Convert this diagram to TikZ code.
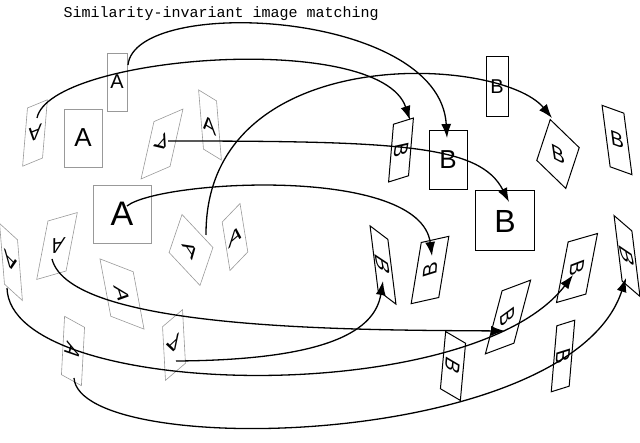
\documentclass[tikz,border=0pt]{standalone}
\usepackage{fontspec}
\setmainfont{Liberation Sans}
\setmonofont{Liberation Mono}
\usetikzlibrary{arrows.meta}
\newcommand{\rl}[2]{\rotatebox{#1}{#2}}
\begin{document}
\begin{tikzpicture}[x=1pt,y=-1pt,
 ga/.style={draw=gray!80, line width=0.6pt, inner sep=0pt, font=\fontsize{20}{20}\selectfont},
 gb/.style={draw=black, line width=1pt, inner sep=0pt, font=\fontsize{20}{20}\selectfont},
 con/.style={line width=1.3pt, -{Latex[length=14pt,width=10pt]}}]
\useasboundingbox (0,0) rectangle (640,443);
\node[font=\ttfamily\fontsize{15}{15}\selectfont, anchor=west] (title) at (60,14) {Similarity-invariant image matching};
% A side
\node[ga, minimum width=20, minimum height=58] (a1) at (117,82) {A};
\node[ga, minimum width=20, minimum height=56, yslant=0.5, rotate=-5] (a2) at (35,133) {\rl{180}{A}};
\node[ga, minimum width=38, minimum height=58, font=\fontsize{26}{26}\selectfont] (a3) at (83,138) {A};
\node[ga, minimum width=30, minimum height=50, yslant=0.7, rotate=-15] (a4) at (162,144) {\rl{-140}{A}};
\node[ga, minimum width=18, minimum height=56, yslant=-0.7, rotate=5] (a5) at (210,125) {A};
\node[ga, minimum width=58, minimum height=58, font=\fontsize{34}{34}\selectfont] (a6) at (122,214) {A};
\node[ga, minimum width=32, minimum height=50, yslant=-0.8, rotate=-15] (a7) at (191,250) {\rl{-20}{A}};
\node[ga, minimum width=18, minimum height=56, yslant=0.9, rotate=8] (a8) at (235,237) {\rl{-10}{A}};
\node[ga, minimum width=30, minimum height=54, yslant=0.5, rotate=-12] (a9) at (57,246) {\rl{170}{A}};
\node[ga, minimum width=18, minimum height=56, yslant=-1.0, rotate=5] (a10) at (11,262) {\rl{175}{A}};
\node[ga, minimum width=34, minimum height=52, yslant=-0.6, rotate=12] (a11) at (122,294) {\rl{-80}{A}};
\node[ga, minimum width=20, minimum height=60, yslant=-0.5, rotate=-3] (a12) at (73,351) {\rl{-100}{A}};
\node[ga, minimum width=20, minimum height=56, yslant=0.8, rotate=3] (a13) at (174,345) {\rl{185}{A}};
% B side
\node[gb, minimum width=22, minimum height=60] (b1) at (497,87) {B};
\node[gb, minimum width=20, minimum height=56, yslant=0.4, rotate=-5] (b2) at (401,150) {\rl{-95}{B}};
\node[gb, minimum width=38, minimum height=59, font=\fontsize{26}{26}\selectfont] (b3) at (448,160) {B};
\node[gb, minimum width=30, minimum height=52, yslant=-0.7, rotate=-15] (b4) at (558,154) {\rl{25}{B}};
\node[gb, minimum width=22, minimum height=58, yslant=-0.5, rotate=8] (b5) at (617,140) {B};
\node[gb, minimum width=59, minimum height=60, font=\fontsize{32}{32}\selectfont] (b6) at (505,221) {B};
\node[gb, minimum width=18, minimum height=58, yslant=-0.9, rotate=8] (b7) at (383,265) {\rl{-85}{B}};
\node[gb, minimum width=28, minimum height=58, yslant=0.4, rotate=-10] (b8) at (430,270) {\rl{95}{B}};
\node[gb, minimum width=30, minimum height=54, yslant=0.7, rotate=-18] (b9) at (508,317) {\rl{-70}{B}};
\node[gb, minimum width=30, minimum height=56, yslant=0.5, rotate=-12] (b10) at (577,268) {\rl{-85}{B}};
\node[gb, minimum width=18, minimum height=58, yslant=-1.0, rotate=8] (b11) at (627,256) {\rl{-80}{B}};
\node[gb, minimum width=20, minimum height=60, yslant=-0.5, rotate=-5] (b12) at (453,366) {\rl{-90}{B}};
\node[gb, minimum width=18, minimum height=64, yslant=0.4, rotate=-5] (b13) at (563,356) {\rl{-90}{B}};
% connectors
\coordinate (s1) at (128,65); \coordinate (e1) at (447,138);
\draw[con] (s1) .. controls (135,-5) and (440,10) .. (e1);
\coordinate (s2) at (37,118); \coordinate (e2) at (410,120);
\draw[con] (s2) .. controls (50,55) and (380,30) .. (e2);
\coordinate (s3) at (206,235); \coordinate (e3) at (552,118);
\draw[con] (s3) .. controls (205,40) and (500,55) .. (e3);
\coordinate (s4) at (168,141); \coordinate (e4) at (509,202);
\draw[con] (s4) .. controls (400,141) and (480,145) .. (e4);
\coordinate (s5) at (127,206); \coordinate (e5) at (432,256);
\draw[con] (s5) .. controls (160,180) and (420,165) .. (e5);
\coordinate (s6) at (52,259); \coordinate (e6) at (505,331);
\draw[con] (s6) .. controls (70,330) and (350,330) .. (e6);
\coordinate (s7) at (176,361); \coordinate (e7) at (383,281);
\draw[con] (s7) .. controls (330,360) and (375,330) .. (e7);
\coordinate (s8) at (7,288); \coordinate (e8) at (573,275);
\draw[con] (s8) .. controls (10,400) and (470,410) .. (e8);
\coordinate (s9) at (74,378); \coordinate (e9) at (626,278);
\draw[con] (s9) .. controls (80,460) and (570,450) .. (e9);
\end{tikzpicture}
\end{document}
